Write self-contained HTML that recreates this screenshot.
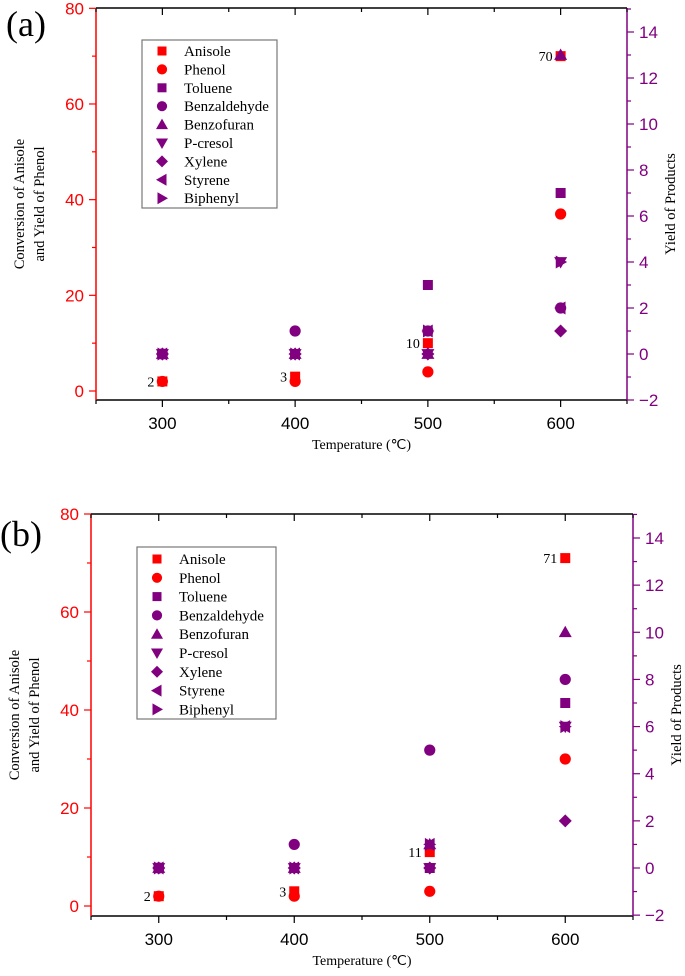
<!DOCTYPE html>
<html><head><meta charset="utf-8"><style>
body{margin:0;background:#fff;}
svg{display:block;}
text{font-family:"Liberation Serif",serif;}
.tk{font-family:"Liberation Sans",sans-serif;font-size:17px;}
</style></head><body>
<svg id="c" width="685" height="976" viewBox="0 0 685 976"></svg>
<script>
const temps=[300,400,500,600];
const names=["Anisole","Phenol","Toluene","Benzaldehyde","Benzofuran","P-cresol","Xylene","Styrene","Biphenyl"];
const shapes=["square","circle","square","circle","up","down","diamond","left","right"];
const colors=["#ff0000","#ff0000","#800080","#800080","#800080","#800080","#800080","#800080","#800080"];
const axisSide=["L","L","R","R","R","R","R","R","R"];
const leftTicks=[0,20,40,60,80];
const rightTicks=[-2,0,2,4,6,8,10,12,14];
const xTicks=[300,400,500,600];
// panel a
const aAnisole=[2,3,10,70];
const aPhenol=[2,2,4,37];
const aToluene=[0,0,3,7];
const aBenzaldehyde=[0,1,1,2];
const aBenzofuran=[0,0,0,13];
const aPcresol=[0,0,0,4];
const aXylene=[0,0,0,1];
const aStyrene=[0,0,1,2];
const aBiphenyl=[0,0,1,4];
// panel b
const bAnisole=[2,3,11,71];
const bPhenol=[2,2,3,30];
const bToluene=[0,0,0,7];
const bBenzaldehyde=[0,1,5,8];
const bBenzofuran=[0,0,1,10];
const bPcresol=[0,0,0,6];
const bXylene=[0,0,0,2];
const bStyrene=[0,0,1,6];
const bBiphenyl=[0,0,1,6];

const svg=document.getElementById('c');
const NS="http://www.w3.org/2000/svg";
function mk(tag,attrs,parent,txt){const e=document.createElementNS(NS,tag);for(const k in attrs)e.setAttribute(k,attrs[k]);if(txt!==undefined)e.textContent=txt;(parent||svg).appendChild(e);return e;}

function marker(g,shape,cx,cy,col,r){
  let e;
  if(shape==="square")e=mk('rect',{x:cx-r,y:cy-r,width:2*r,height:2*r,fill:col},g);
  else if(shape==="circle")e=mk('circle',{cx:cx,cy:cy,r:r+0.6,fill:col},g);
  else{
    let p;const s=r+1.5;
    if(shape==="up")p=[[cx,cy-s],[cx+s,cy+s*0.75],[cx-s,cy+s*0.75]];
    if(shape==="down")p=[[cx,cy+s],[cx+s,cy-s*0.75],[cx-s,cy-s*0.75]];
    if(shape==="left")p=[[cx-s,cy],[cx+s*0.75,cy-s],[cx+s*0.75,cy+s]];
    if(shape==="right")p=[[cx+s,cy],[cx-s*0.75,cy-s],[cx-s*0.75,cy+s]];
    if(shape==="diamond")p=[[cx,cy-s],[cx+s,cy],[cx,cy+s],[cx-s,cy]];
    e=mk('polygon',{points:p.map(q=>q.join(',')).join(' '),fill:col},g);
  }
  return e;
}

function panel(P){
  const g=mk('g',{});
  
  
  const X=v=>P.x0+(v-250)/400*(P.x1-P.x0);
  const YL=v=>P.yl0+(v-0)*(P.yl80-P.yl0)/80;
  const YR=v=>P.yr0+(v-0)*(P.yr14-P.yr0)/14;
  let e=mk('line',{x1:P.x0,y1:P.top,x2:P.x1,y2:P.top,stroke:'#000','stroke-width':1.5},g);
  e=mk('line',{x1:P.x0,y1:P.bot,x2:P.x1,y2:P.bot,stroke:'#000','stroke-width':1.5},g);
  e=mk('line',{x1:P.x0,y1:P.top,x2:P.x0,y2:P.bot,stroke:'#ff0000','stroke-width':1.5},g);
  e=mk('line',{x1:P.x1,y1:P.top,x2:P.x1,y2:P.bot,stroke:'#800080','stroke-width':1.5},g);
  for(let v=250;v<=650;v+=50){
    const x=X(v),big=(v%100===0);
    mk('line',{x1:x,y1:P.bot,x2:x,y2:P.bot+(big?7:4),stroke:'#000','stroke-width':1.2},g);
    mk('line',{x1:x,y1:P.top,x2:x,y2:P.top+(big?7:4),stroke:'#000','stroke-width':1.2},g);
  }
  xTicks.forEach(v=>{e=mk('text',{x:X(v),y:P.bot+29,'text-anchor':'middle',class:'tk',fill:'#000'},g,String(v));});
  for(let v=0;v<=80;v+=10){const y=YL(v);mk('line',{x1:P.x0,y1:y,x2:P.x0-(v%20===0?7:4),y2:y,stroke:'#ff0000','stroke-width':1.2},g);}
  leftTicks.forEach(v=>{e=mk('text',{x:P.x0-12,y:YL(v)+6,'text-anchor':'end',class:'tk',fill:'#ff0000'},g,String(v));});
  for(let v=-2;v<=15;v+=1){const y=YR(v);if(y<P.top-1)continue;mk('line',{x1:P.x1,y1:y,x2:P.x1+(v%2===0?7:4),y2:y,stroke:'#800080','stroke-width':1.2},g);}
  rightTicks.forEach(v=>{e=mk('text',{x:P.x1+12,y:YR(v)+6,'text-anchor':'start',class:'tk',fill:'#800080'},g,v<0?'\u2212'+(-v):String(v));});
  e=mk('text',{x:(P.x0+P.x1)/2,y:P.bot+49,'text-anchor':'middle','font-size':14,fill:'#000'},g,'Temperature (\u2103)');
  const ty=(P.top+P.bot)/2;
  e=mk('text',{transform:`translate(${P.x0-72},${ty}) rotate(-90)`,'text-anchor':'middle','font-size':14.5,fill:'#000'},g,'Conversion of Anisole');
  e=mk('text',{transform:`translate(${P.x0-52},${ty}) rotate(-90)`,'text-anchor':'middle','font-size':14.5,fill:'#000'},g,'and Yield of Phenol');
  e=mk('text',{transform:`translate(${P.x1+48},${ty}) rotate(-90)`,'text-anchor':'middle','font-size':14.5,fill:'#000'},g,'Yield of Products');
  e=mk('text',{x:P.labX,y:P.labY,'font-size':36,fill:'#000'},g,'('+P.id+')');
  P.series.forEach((arr,i)=>{
    const sg=mk('g',{},g);
    
    
    arr.forEach((v,j)=>{
      const y=axisSide[i]==="L"?YL(v):YR(v);
      const m=marker(sg,shapes[i],X(temps[j]),y,colors[i],5);
      
      
    });
  });
  P.series[0].forEach((v,j)=>{e=mk('text',{x:X(temps[j])-8,y:YL(v)+5,'text-anchor':'end','font-size':14,fill:'#000'},g,String(v));});
  const lg=mk('g',{},g);
  
  
  mk('rect',{x:P.lx,y:P.ly,width:P.lw,height:P.lh,fill:'#fff',stroke:'#777','stroke-width':1.2},lg);
  names.forEach((n,i)=>{
    const yy=P.ly+P.l0+i*P.ls;
    const eg=mk('g',{},lg);
    
    
    marker(eg,shapes[i],P.lx+20,yy,colors[i],4.5);
    mk('text',{x:P.lx+42,y:yy+5,'font-size':15,fill:'#000'},eg,n);
  });
}
panel({id:'a',x0:96,x1:627,top:8,bot:400,yl0:391,yl80:8.3,yr0:354,yr14:32,labX:6,labY:36,
  lx:142,ly:40,lw:135,lh:168,l0:11,ls:18.4,
  series:[aAnisole,aPhenol,aToluene,aBenzaldehyde,aBenzofuran,aPcresol,aXylene,aStyrene,aBiphenyl]});
panel({id:'b',x0:91,x1:633,top:514,bot:916,yl0:906,yl80:514,yr0:868,yr14:538,labX:0,labY:546,
  lx:137,ly:547,lw:139,lh:172,l0:12,ls:18.8,
  series:[bAnisole,bPhenol,bToluene,bBenzaldehyde,bBenzofuran,bPcresol,bXylene,bStyrene,bBiphenyl]});
</script>
</body></html>
